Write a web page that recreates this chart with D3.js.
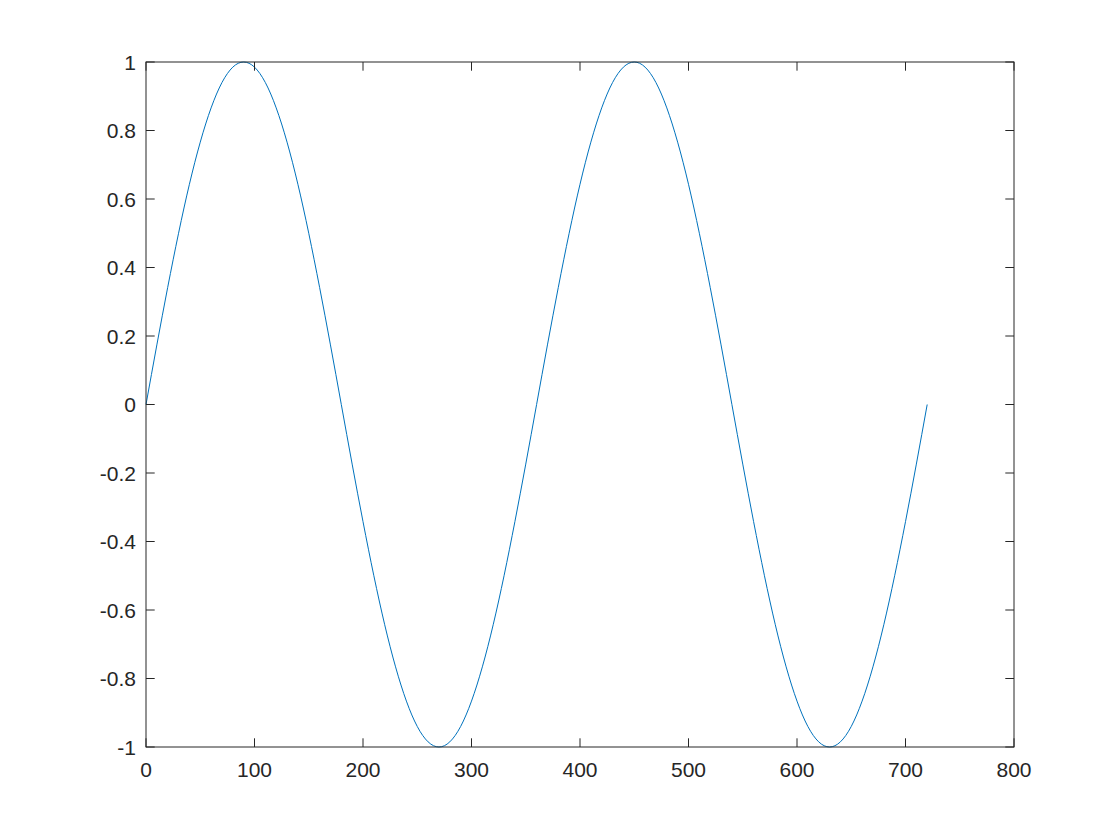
<!DOCTYPE html>
<html><head><meta charset="utf-8">
<script src="https://cdn.jsdelivr.net/npm/d3@7"></script>
<style>body{margin:0;background:#fff;} text{font-family:"Liberation Sans",Arial,Helvetica,sans-serif;}</style>
</head><body>
<svg id="c" width="1120" height="840"></svg>
<script>
// angles in degrees (sampled every 10 degrees)
const xValues = [0,10,20,30,40,50,60,70,80,90,100,110,120,130,140,150,160,170,180,
  190,200,210,220,230,240,250,260,270,280,290,300,310,320,330,340,350,360,
  370,380,390,400,410,420,430,440,450,460,470,480,490,500,510,520,530,540,
  550,560,570,580,590,600,610,620,630,640,650,660,670,680,690,700,710,720];
const yValues = [0,0.174,0.342,0.5,0.643,0.766,0.866,0.940,0.985,1,0.985,0.940,0.866,0.766,0.643,0.5,0.342,0.174,0,
  -0.174,-0.342,-0.5,-0.643,-0.766,-0.866,-0.940,-0.985,-1,-0.985,-0.940,-0.866,-0.766,-0.643,-0.5,-0.342,-0.174,0,
  0.174,0.342,0.5,0.643,0.766,0.866,0.940,0.985,1,0.985,0.940,0.866,0.766,0.643,0.5,0.342,0.174,0,
  -0.174,-0.342,-0.5,-0.643,-0.766,-0.866,-0.940,-0.985,-1,-0.985,-0.940,-0.866,-0.766,-0.643,-0.5,-0.342,-0.174,0];
const xTicks = [0,100,200,300,400,500,600,700,800];
const yTicks = [-1,-0.8,-0.6,-0.4,-0.2,0,0.2,0.4,0.6,0.8,1];

const L=146, R=1014, T=62, B=747;
const svg = d3.select("#c");
const x = d3.scaleLinear().domain([0,800]).range([L,R]);
const y = d3.scaleLinear().domain([-1,1]).range([B,T]);
const col="#262626", tl=8.7, fs=21;

const data = xValues.map((v,i)=>[v,yValues[i]]);
svg.append("path").datum(data)
  .attr("fill","none").attr("stroke","#0072BD").attr("stroke-width",1)
  .attr("d", d3.line().x(d=>x(d[0])).y(d=>y(d[1])).curve(d3.curveNatural));

const g = svg.append("g").attr("stroke",col).attr("stroke-width",1).attr("fill","none");
g.append("rect").attr("x",L).attr("y",T).attr("width",R-L).attr("height",B-T);
xTicks.forEach(t=>{
  g.append("line").attr("x1",x(t)).attr("x2",x(t)).attr("y1",B).attr("y2",B-tl);
  g.append("line").attr("x1",x(t)).attr("x2",x(t)).attr("y1",T).attr("y2",T+tl);
});
yTicks.forEach(t=>{
  g.append("line").attr("x1",L).attr("x2",L+tl).attr("y1",y(t)).attr("y2",y(t));
  g.append("line").attr("x1",R).attr("x2",R-tl).attr("y1",y(t)).attr("y2",y(t));
});
svg.append("g").selectAll("text").data(xTicks).join("text")
  .attr("x",d=>x(d)).attr("y",B+30).attr("text-anchor","middle")
  .attr("font-size",fs).attr("fill",col).text(d=>String(d));
svg.append("g").selectAll("text").data(yTicks).join("text")
  .attr("x",L-10).attr("y",d=>y(d)).attr("dy","0.36em").attr("text-anchor","end")
  .attr("font-size",fs).attr("fill",col).text(d=>String(d));
</script>
</body></html>
